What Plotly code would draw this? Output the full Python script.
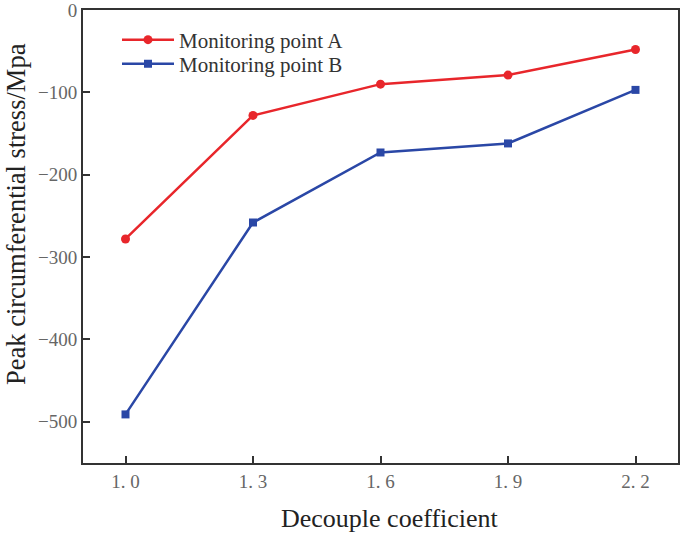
import plotly.graph_objects as go

x_vals = [1.0, 1.3, 1.6, 1.9, 2.2]
x_labels = ["1. 0", "1. 3", "1. 6", "1. 9", "2. 2"]
series_a = [-278, -128, -90, -79, -48]
series_b = [-491, -258, -173, -162, -97]
y_ticks = [0, -100, -200, -300, -400, -500]
y_labels = ["0", "\u2212100", "\u2212200", "\u2212300", "\u2212400", "\u2212500"]

FONT = "Liberation Serif"

fig = go.Figure()
fig.add_trace(go.Scatter(x=x_vals, y=series_a, mode="lines+markers", name="Monitoring point A",
                         line=dict(color="#e8262b", width=2.5),
                         marker=dict(symbol="circle", size=9, color="#e8262b"),
                         legend="legend"))
fig.add_trace(go.Scatter(x=x_vals, y=series_b, mode="lines+markers", name="Monitoring point B",
                         line=dict(color="#2a47a6", width=2.5),
                         marker=dict(symbol="square", size=8, color="#2a47a6"),
                         legend="legend2"))

leg_common = dict(xanchor="left", yanchor="middle",
                  font=dict(size=21, color="#333", family=FONT),
                  bgcolor="rgba(0,0,0,0)", itemwidth=52, borderwidth=0)

fig.update_layout(
    width=685, height=533,
    margin=dict(l=83, r=7, t=10, b=70, autoexpand=False),
    paper_bgcolor="white", plot_bgcolor="white",
    font=dict(family=FONT, color="#333"),
    showlegend=True,
    legend=dict(x=(117 - 83) / 595, y=1 - (40 - 10) / 453, **leg_common),
    legend2=dict(x=(117 - 83) / 595, y=1 - (64 - 10) / 453, **leg_common),
    annotations=[
        dict(text="Decouple coefficient", xref="paper", yref="paper",
             x=(390 - 83) / 595, y=-(518 - 463) / 453, xanchor="center", yanchor="middle",
             showarrow=False, font=dict(size=26, color="#222", family=FONT)),
        dict(text="Peak circumferential stress/Mpa", xref="paper", yref="paper",
             x=(16 - 83) / 595, y=1 - (214 - 10) / 453, xanchor="center", yanchor="middle",
             textangle=-90, showarrow=False, font=dict(size=26.5, color="#222", family=FONT)),
    ],
)
fig.update_xaxes(range=[0.9, 2.3], tickvals=x_vals, ticktext=x_labels,
                 ticks="inside", ticklen=7, tickwidth=2, tickcolor="#333",
                 showline=True, linewidth=2, linecolor="#333", mirror=True,
                 showgrid=False, zeroline=False, ticklabeloverflow="allow", automargin=False,
                 tickfont=dict(size=19, color="#666", family=FONT))
fig.update_yaxes(range=[-550, 0], tickvals=y_ticks, ticktext=y_labels,
                 ticks="inside", ticklen=7, tickwidth=2, tickcolor="#333",
                 showline=True, linewidth=2, linecolor="#333", mirror=True,
                 showgrid=False, zeroline=False, ticklabeloverflow="allow", automargin=False,
                 tickfont=dict(size=19, color="#666", family=FONT))

fig.write_html("out.html")
